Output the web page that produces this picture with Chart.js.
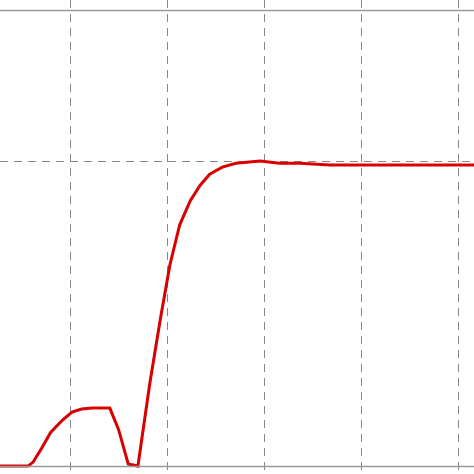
<!DOCTYPE html>
<html lang="en">
<head>
<meta charset="UTF-8">
<title>Response</title>
<script src="https://cdn.jsdelivr.net/npm/chart.js"></script>
<style>
  html, body { margin: 0; padding: 0; background: #fff; }
  #wrap { width: 474px; height: 474px; }
</style>
</head>
<body>
<div id="wrap"><canvas id="c"></canvas></div>
<script>
// curve
const xs = [0.268, 0.557, 0.61, 0.70, 0.79, 0.91, 1.01, 1.11, 1.22, 1.40, 1.49, 1.59, 1.69,
            1.81, 1.92, 2.02, 2.12, 2.23, 2.33, 2.43, 2.56, 2.70, 2.95, 3.15, 3.36, 3.67, 5.155];
const ys = [0, 0, 0.013, 0.06, 0.11, 0.15, 0.177, 0.187, 0.19, 0.19, 0.12, 0.007, 0,
            0.266, 0.48, 0.66, 0.79, 0.87, 0.92, 0.957, 0.98, 0.993, 1.0, 0.993, 0.993, 0.987, 0.987];
const xTicks = [1, 2, 3, 4, 5];
const yTicks = [0, 1];
const yTop = 1.495;

const frame = {
  id: 'frame',
  afterDraw(chart) {
    const { ctx, chartArea, scales } = chart;
    ctx.save();
    ctx.strokeStyle = '#999';
    ctx.lineWidth = 1.5;
    [0, yTop].forEach(v => {
      const y = Math.round(scales.y.getPixelForValue(v)) + 0.5;
      ctx.beginPath();
      ctx.moveTo(chartArea.left, y);
      ctx.lineTo(chartArea.right, y);
      ctx.stroke();
    });
    ctx.restore();
  }
};

new Chart(document.getElementById('c'), {
  type: 'line',
  data: {
    datasets: [{
      data: xs.map((x, i) => ({ x: x, y: ys[i] })),
      borderColor: '#d90000',
      borderWidth: 3,
      pointRadius: 0,
      tension: 0
    }]
  },
  options: {
    responsive: true,
    maintainAspectRatio: false,
    animation: false,
    layout: { padding: 0 },
    plugins: { legend: { display: false }, tooltip: { enabled: false } },
    scales: {
      x: {
        type: 'linear', min: 0.268, max: 5.155,
        afterBuildTicks: s => { s.ticks = xTicks.map(v => ({ value: v })); },
        ticks: { display: false },
        grid: { color: '#888', lineWidth: 1, drawTicks: false },
        border: { display: false, dash: [8, 6] }
      },
      y: {
        min: -0.026, max: 1.528,
        afterBuildTicks: s => { s.ticks = yTicks.map(v => ({ value: v })); },
        ticks: { display: false },
        grid: { color: '#888', lineWidth: 1, drawTicks: false },
        border: { display: false, dash: [8, 6] }
      }
    }
  },
  plugins: [frame]
});
</script>
</body>
</html>
